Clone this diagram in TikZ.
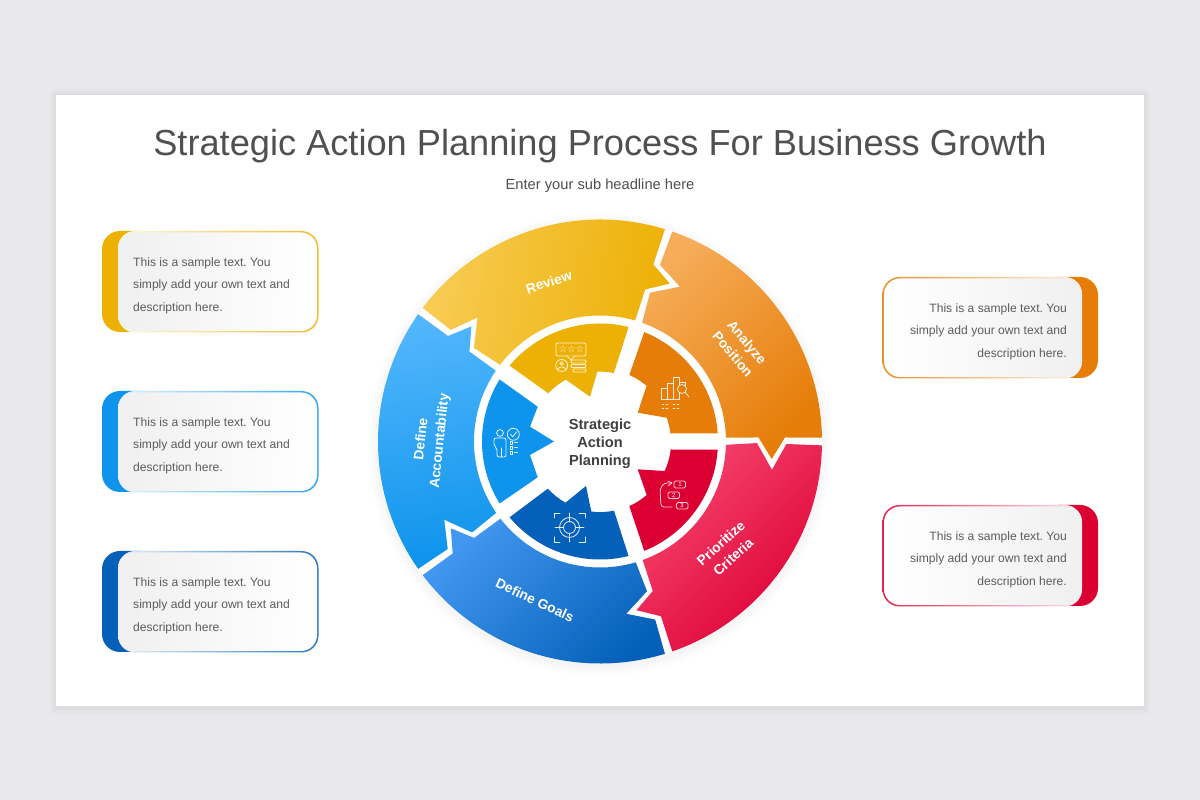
\documentclass[tikz,border=0pt]{standalone}
\usepackage{fontspec}
\setmainfont{Liberation Sans}
\newfontfamily\symfont{DejaVu Sans}
\definecolor{pagegray}{HTML}{E9E8EA}
\definecolor{inktext}{HTML}{505050}
\definecolor{bodytext}{HTML}{5C5C5C}
\definecolor{accyellow}{HTML}{EDB005}
\definecolor{accorange}{HTML}{E57D08}
\definecolor{accred}{HTML}{DC0032}
\definecolor{accdark}{HTML}{0460B8}
\definecolor{acclight}{HTML}{0E94EC}
\definecolor{paleyellow}{HTML}{F8CC55}
\definecolor{paleorange}{HTML}{F6AC58}
\definecolor{palered}{HTML}{F6456F}
\definecolor{paledark}{HTML}{4297F0}
\definecolor{palelight}{HTML}{52B6FC}
\tikzset{
	sampletext/.style={text=bodytext, font=\fontsize{12.1}{22.6}\selectfont\frenchspacing, inner sep=0pt},
	seglabel/.style={text=white, font=\fontsize{13.8}{18.5}\selectfont\bfseries, align=center, inner sep=0pt},
	iconline/.style={draw=#1, line width=0.8pt, line cap=round, line join=round},
}
% outer arrow segment, drawn around the wheel centre
\newcommand{\outerseg}{(71:222) arc[start angle=71, end angle=1, radius=222] -- (185,4) -- (171.7,-17.5) -- (158.5,4) -- (1.8:126) arc[start angle=1.8, end angle=70.5, radius=126] -- (50,148.8) -- (80,154.8) -- (60,176.5) -- cycle}
\begin{document}
\begin{tikzpicture}[x=1pt, y=1pt]
	\useasboundingbox (0,0) rectangle (1200,800);
	\fill[pagegray] (0,0) rectangle (1200,800);

	% white sheet and its shadow
	\foreach \d in {1,...,6}
		\fill[black, opacity=0.006] (56-\d,94-\d-2) rectangle (1144+\d,705+\d);
	\fill[white] (56,94) rectangle (1144,705);

	% title
	\node (title) at (600,653.5) {\fontsize{36.2}{40}\selectfont\color{inktext}Strategic Action Planning Process For Business Growth};
	\node (subtitle) at (600,614.5) {\fontsize{14.7}{18}\selectfont\color{inktext}Enter your sub headline here};

	% text boxes on the left
	\foreach \ytop/\col/\boxname in {569/accyellow/one, 409/acclight/two, 249/accdark/three} {
		\fill[\col, rounded corners=18] (102,\ytop-101) rectangle (160,\ytop);
		\shade[left color=\col!10!white, middle color=\col!22!white, right color=\col!85!white, rounded corners=17] (118,\ytop-101.5) rectangle (318.5,\ytop);
		\shade[left color=black!6, right color=white, rounded corners=16] (118,\ytop-100) rectangle (317,\ytop-1.5);
		\node[sampletext, anchor=west, align=left] (left\boxname) at (133,\ytop-54.7) {This is a sample text. You\\simply add your own text and\\description here.};
	}

	% text boxes on the right
	\foreach \ytop/\col/\boxname in {523/accorange/one, 295/accred/two} {
		\fill[\col, rounded corners=18] (1040,\ytop-101) rectangle (1098,\ytop);
		\shade[left color=\col!85!white, middle color=\col!22!white, right color=\col!10!white, rounded corners=17] (882.5,\ytop-101.5) rectangle (1082,\ytop);
		\shade[left color=white, right color=black!6, rounded corners=16] (884,\ytop-100) rectangle (1082,\ytop-1.5);
		\node[sampletext, anchor=east, align=right] (right\boxname) at (1067,\ytop-54.7) {This is a sample text. You\\simply add your own text and\\description here.};
	}

	\begin{scope}[shift={(600,358.5)}]
		% soft shadow of the wheel
		\foreach \d in {1,...,10}
			\fill[black, opacity=0.004] (0,-3) circle[radius=222+\d];
		\fill[white] (0,0) circle[radius=222];

		% outer segments
		\shade[rotate=0, left color=paleorange, right color=accorange, shading angle=45] \outerseg;
		\shade[rotate=-72, left color=palered, right color=accred, shading angle=45] \outerseg;
		\shade[rotate=-144, left color=paledark, right color=accdark, shading angle=45] \outerseg;
		\shade[rotate=-216, left color=palelight, right color=acclight, shading angle=10] \outerseg;
		\shade[rotate=72, left color=paleyellow, right color=accyellow, shading angle=80] \outerseg;

		% inner segments with the gear cut out of them
		\fill[accorange] (4:118) arc[start angle=4, end angle=68, radius=118] -- (29.3,66.5) arc[start angle=66.2, end angle=49.7, radius=71] -- (37.7,28.8) -- (66.7,23.8) arc[start angle=19.6, end angle=6.5, radius=71] -- cycle;
		\fill[accyellow] (76:118) arc[start angle=76, end angle=140, radius=118] -- (-51.7,48.2) arc[start angle=137, end angle=119, radius=71] -- (-10,44.8) -- (-2.7,69.8) arc[start angle=92, end angle=78.6, radius=71] -- cycle;
		\fill[acclight] (148.3:118) arc[start angle=148.3, end angle=211.7, radius=118] -- (-62.3,-35.8) -- (-70,-13.5) -- (-46,0) -- (-70,14.8) -- (-62.3,34.8) -- cycle;
		\fill[accdark] (220:118) arc[start angle=220, end angle=284, radius=118] -- (14,-69.2) arc[start angle=281.4, end angle=263, radius=71] -- (-14,-44.5) -- (-34.5,-61.2) arc[start angle=240.6, end angle=222.3, radius=71] -- cycle;
		\fill[accred] (-68:118) arc[start angle=-68, end angle=-4, radius=118] -- (70.7,-8) arc[start angle=-6.5, end angle=-24.6, radius=71] -- (37.7,-27.8) -- (46.7,-53.5) arc[start angle=-48.9, end angle=-65.6, radius=71] -- cycle;
	\end{scope}

	% segment labels
	\node[seglabel, rotate=18] (review) at (549,518) {Review};
	\node[seglabel, rotate=-50] (analyze) at (740,452) {Analyze\\Position};
	\node[seglabel, rotate=42] (prioritize) at (727,250) {Prioritize\\Criteria};
	\node[seglabel, rotate=-25] (goals) at (535,200) {Define Goals};
	\node[seglabel, rotate=84] (account) at (431,360) {Define\\Accountability};

	% centre label
	\node[align=center, inner sep=0pt, text=black!75, font=\fontsize{14.6}{18}\selectfont\bfseries] (centre) at (600,356.5) {Strategic\\Action\\Planning};

	% review icon
	\begin{scope}[iconline=white!85!accyellow]
		\draw[rounded corners=2] (556,457) rectangle (586,444);
		\draw[fill=accyellow] (567,444.3) -- (571,440) -- (575,444.3);
		\foreach \sx in {563,571.5,580}
			\node[font=\symfont\fontsize{9.5}{9.5}\selectfont, text=white, inner sep=0pt] (star\sx) at (\sx,450.5) {☆};
		\draw (561.7,434.5) circle[radius=6];
		\draw (561.7,436.5) circle[radius=1.7];
		\draw (557.6,430.2) .. controls (558.5,434) and (565,434) .. (565.8,430.2);
		\draw[rounded corners=1] (571,437) rectangle (586,440);
		\draw[rounded corners=1] (571,432.5) rectangle (586,435.5);
		\draw[rounded corners=1] (573,428) rectangle (586,431);
	\end{scope}

	% analyze icon
	\begin{scope}[iconline=white!85!accorange]
		\draw (661,401) rectangle (667,412);
		\draw (667,401) rectangle (673,417);
		\draw (673,401) rectangle (679,423);
		\draw (679,408) -- (679,418) -- (685,418) -- (685,411);
		\draw[fill=accorange] (682,411) circle[radius=4.5];
		\draw (685.5,407.5) -- (689,403);
		\foreach \bx in {662,673} {
			\draw (\bx,396) -- (\bx+2,396) (\bx+4,396) -- (\bx+6,396);
			\draw (\bx,392) -- (\bx+2,392) (\bx+4,392) -- (\bx+6,392);
		}
	\end{scope}

	% prioritize icon
	\begin{scope}[iconline=white!80!accred]
		\draw[rounded corners=1.5] (674,319) rectangle (685.5,312);
		\draw[rounded corners=1.5] (668,308) rectangle (679.5,301.5);
		\draw[rounded corners=1.5] (676.5,297.5) rectangle (688,291);
		\draw[rounded corners=3] (672,293) -- (661,293) -- (660,311) -- (664,317) -- (671,317);
		\draw (668,319) -- (672,317) -- (668,314);
		\foreach \nx/\ny/\num in {680/315.5/1, 673.7/304.7/2, 682/294.3/3}
			\node[text=white, inner sep=0pt, font=\fontsize{6}{6}\selectfont] (num\num) at (\nx,\ny) {\num};
	\end{scope}

	% goals icon
	\begin{scope}[iconline=white!90!accdark]
		\draw (569.5,272.5) circle[radius=10];
		\draw (569.5,272.5) circle[radius=6];
		\draw (569.5,287) -- (569.5,278) (569.5,267) -- (569.5,258);
		\draw (555,272.5) -- (563,272.5) (576,272.5) -- (584,272.5);
		\draw (554.5,282) -- (554.5,287) -- (560,287) (579,287) -- (585,287) -- (585,282);
		\draw (554.5,263) -- (554.5,257.5) -- (560,257.5) (579,257.5) -- (585,257.5) -- (585,263);
	\end{scope}

	% accountability icon
	\begin{scope}[iconline=white!90!acclight]
		\draw (500,367) circle[radius=3.4];
		\draw[rounded corners=2] (497,343) -- (497,352) -- (494,354) -- (494,362) -- (506,362) -- (506,343) -- cycle;
		\draw (501.5,343) -- (501.5,352);
		\draw (513.3,365.7) circle[radius=6];
		\draw (510.5,365.7) -- (512.8,363.2) -- (516.5,368);
		\foreach \ry in {356,351,346} {
			\draw (510,\ry) rectangle (512.5,\ry+2.5);
			\draw (514.5,\ry+1.2) -- (517.5,\ry+1.2);
		}
	\end{scope}
\end{tikzpicture}
\end{document}
